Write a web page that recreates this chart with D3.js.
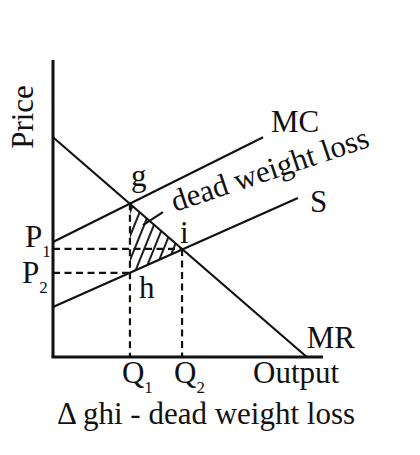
<!DOCTYPE html>
<html>
<head>
<meta charset="utf-8">
<script src="https://cdn.jsdelivr.net/npm/d3@7"></script>
<style>
  body { margin: 0; background: #fff; }
  text { font-family: "Liberation Serif", "Times New Roman", serif; fill: #111; }
</style>
</head>
<body>
<div id="chart"></div>
<script>
// curves as [quantity, price] end points (0..100 units)
var mrLine = [[0, 74], [94, 0]];
var mcLine = [[0, 38.7], [77.8, 74]];
var sLine  = [[0, 16.8], [90.7, 53.5]];

// key points
var ptG = [28.5, 51.8];
var ptH = [28.5, 28.3];
var ptI = [47.8, 36.4];
var q1 = 28.5, q2 = 47.8;
var p1 = 36.4, p2 = 28.3;

var width = 420, height = 455;
var fs = 31;

var svg = d3.select("#chart").append("svg")
  .attr("width", width)
  .attr("height", height);

var x = d3.scaleLinear().domain([0, 100]).range([53, 323]);
var y = d3.scaleLinear().domain([0, 100]).range([357, 60]);

var line = d3.line()
  .x(function(d) { return x(d[0]); })
  .y(function(d) { return y(d[1]); });

// hatch pattern for dead weight loss triangle
var defs = svg.append("defs");
defs.append("pattern")
  .attr("id", "hatch")
  .attr("patternUnits", "userSpaceOnUse")
  .attr("width", 9)
  .attr("height", 9)
  .attr("patternTransform", "rotate(22)")
  .append("line")
    .attr("x1", 2).attr("y1", 0)
    .attr("x2", 2).attr("y2", 9)
    .attr("stroke", "#111")
    .attr("stroke-width", 1.9);

svg.append("path")
  .attr("d", line([ptG, ptH, ptI]) + "Z")
  .attr("fill", "url(#hatch)")
  .attr("stroke", "none");

// dashed guides
var dash = "7,4.5";
var guides = [
  [[0, p1], [ptI[0], p1]],
  [[0, p2], [ptH[0], p2]],
  [[q1, ptG[1]], [q1, 0]],
  [[q2, ptI[1]], [q2, 0]]
];
svg.append("g").selectAll("path")
  .data(guides)
  .enter().append("path")
    .attr("d", line)
    .attr("fill", "none")
    .attr("stroke", "#111")
    .attr("stroke-width", 2.2)
    .attr("stroke-dasharray", dash);

// curves
svg.append("g").selectAll("path")
  .data([mrLine, mcLine, sLine])
  .enter().append("path")
    .attr("d", line)
    .attr("fill", "none")
    .attr("stroke", "#111")
    .attr("stroke-width", 2.2);

// leader line from triangle to label
svg.append("line")
  .attr("x1", x(ptG[0]) + 13).attr("y1", y(ptG[1]) + 22)
  .attr("x2", x(ptG[0]) + 33).attr("y2", y(ptG[1]) + 9)
  .attr("stroke", "#111")
  .attr("stroke-width", 2.2);

// axes
svg.append("line")
  .attr("x1", x(0)).attr("y1", y(100))
  .attr("x2", x(0)).attr("y2", y(0))
  .attr("stroke", "#111").attr("stroke-width", 3);
svg.append("line")
  .attr("x1", x(0) - 1.5).attr("y1", y(0))
  .attr("x2", x(100)).attr("y2", y(0))
  .attr("stroke", "#111").attr("stroke-width", 3);

// labels
function label(tx, ty, txt) {
  return svg.append("text")
    .attr("x", tx).attr("y", ty)
    .style("font-size", fs + "px")
    .text(txt);
}
function subLabel(tx, ty, main, sub) {
  var t = svg.append("text")
    .attr("x", tx).attr("y", ty)
    .style("font-size", fs + "px");
  t.append("tspan").text(main);
  t.append("tspan").attr("dy", 10).style("font-size", "17px").text(sub);
  return t;
}

svg.append("text")
  .attr("transform", "translate(33,117) rotate(-90)")
  .attr("text-anchor", "middle")
  .style("font-size", fs + "px")
  .text("Price");

label(x(mcLine[1][0]) + 8, y(mcLine[1][1]) - 5, "MC");
label(x(sLine[1][0]) + 12, y(sLine[1][1]) + 14, "S");
label(x(mrLine[1][0]) + 0, y(mrLine[1][1]) - 9, "MR");
label(x(100) - 70, y(0) + 26, "Output");

label(x(ptG[0]) + 1, y(ptG[1]) - 17, "g");
label(x(ptI[0]) - 2, y(ptI[1]) - 6, "i");
label(x(ptH[0]) + 9, y(ptH[1]) + 25, "h");

subLabel(25, y(p1) - 2, "P", "1");
subLabel(22, y(p2) + 10, "P", "2");
subLabel(x(q1) - 8, y(0) + 26, "Q", "1");
subLabel(x(q2) - 8, y(0) + 26, "Q", "2");

svg.append("text")
  .attr("transform", "translate(175,212) rotate(-18.5)")
  .style("font-size", fs + "px")
  .text("dead weight loss");

svg.append("text")
  .attr("x", 57).attr("y", 424)
  .style("font-size", fs + "px")
  .text("\u0394 ghi - dead weight loss");
</script>
</body>
</html>
